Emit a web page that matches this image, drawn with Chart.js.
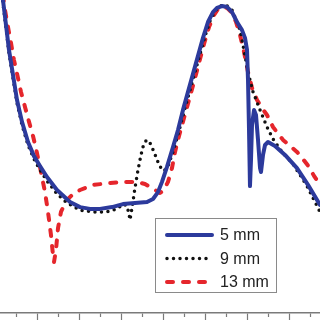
<!DOCTYPE html>
<html>
<head>
<meta charset="utf-8">
<script src="https://cdn.jsdelivr.net/npm/chart.js@4"></script>
<style>
html,body{margin:0;padding:0;background:#fff;}
canvas{display:block;}
</style>
</head>
<body>
<canvas id="c" width="320" height="320"></canvas>
<script>
// Series labels
const seriesLabels = ['5 mm', '9 mm', '13 mm'];

// 5 mm (solid blue)
const x5 = [0.143,0.190,0.262,0.333,0.429,0.524,0.643,0.786,0.929,1.071,1.238,1.476,1.786,2.024,2.262,2.500,2.786,3.048,3.333,3.619,3.762,3.881,3.976,4.095,4.238,4.357,4.476,4.595,4.714,4.833,4.952,5.071,5.190,5.286,5.405,5.524,5.643,5.762,5.881,5.952,6.000,6.024,6.048,6.071,6.095,6.119,6.167,6.214,6.262,6.310,6.333,6.381,6.429,6.500,6.667,6.905,7.190,7.452,7.738];
const y5 = [109.3,104.3,96,87.7,79.3,71,63.7,57,52.3,49,45.3,41,37,35.3,34.7,34.7,35.3,36.3,36.7,37,38,40.3,43.7,48.7,55.3,61,67.7,73.7,79.7,85.7,91.7,97,100.3,101.7,102.3,102,100.3,97,94.3,91.7,87.7,77.7,61,42.3,51,62.7,67.7,66,57.7,48.3,47,52.7,56,57,55.7,52.7,48.3,42.7,36];

// 9 mm (black dotted)
const x9 = [0.143,0.190,0.262,0.333,0.429,0.524,0.643,0.786,0.929,1.071,1.238,1.476,1.714,2.024,2.333,2.667,2.905,3.048,3.143,3.190,3.214,3.262,3.333,3.405,3.476,3.548,3.619,3.690,3.786,3.881,3.952,4.024,4.119,4.214,4.286,4.405,4.524,4.643,4.762,4.881,5.000,5.119,5.238,5.357,5.500,5.643,5.762,5.833,5.905,6.024,6.143,6.310,6.476,6.619,6.833,7.095,7.429,7.738];
const y9 = [108.3,103.3,95,86.7,78.3,70,62.7,56,51.3,47.7,44,39.7,36.7,34.3,33.7,33.7,34.7,36.3,35.7,33,31,35,41.7,47.7,52.7,56.7,57.7,56.7,53.7,50.3,48.3,47.3,49,52.7,56,62,68.3,74.3,80.3,86.3,92.3,97.3,100.7,102.3,102.7,101,97,94.3,89.3,80.3,73.7,67.7,62,58,53.7,49.7,42.3,33.7];

// 13 mm (red dashed)
const x13 = [0.190,0.238,0.310,0.381,0.452,0.548,0.619,0.714,0.810,0.905,1.000,1.095,1.190,1.262,1.333,1.381,1.405,1.452,1.500,1.571,1.690,1.833,2.024,2.333,2.738,3.048,3.381,3.571,3.690,3.810,3.929,4.024,4.119,4.214,4.286,4.381,4.500,4.619,4.738,4.857,4.976,5.095,5.214,5.310,5.405,5.524,5.643,5.738,5.833,5.929,6.024,6.119,6.238,6.357,6.476,6.619,6.857,7.190,7.333,7.476,7.595,7.738];
const y13 = [106,101,95.3,90,84.3,78.3,73.7,68.7,63.7,59,53.3,47,40.3,33.7,26,19.3,17,21,28.3,33.7,37.3,39.3,41,42.7,43.3,43.7,43.7,43,42,41,40,41,43.7,48.3,53.7,59,65,71,77,83.3,89.7,95.3,99.3,101.3,102,101.7,100,97,92.7,87,80.3,75,71,68.3,66,62,57.7,53.7,51.3,48.7,45.7,42.7];

const toPts = (xs, ys) => xs.map((x, i) => ({x: x, y: ys[i]}));

const BLUE = '#2c3a9c';
const BLACK = '#111111';
const RED = '#e5262c';

const styles = [
  {color: BLUE, width: 4, dash: []},
  {color: BLACK, width: 3.5, dash: [0, 6.5]},
  {color: RED, width: 4, dash: [6, 10]}
];

const boxLegend = {
  id: 'boxLegend',
  afterDraw(chart) {
    const ctx = chart.ctx;
    ctx.save();
    const bx = 155.5, by = 218.5, bw = 121, bh = 74;
    ctx.fillStyle = '#fff';
    ctx.fillRect(bx, by, bw, bh);
    ctx.strokeStyle = '#8a8a8a';
    ctx.lineWidth = 1;
    ctx.strokeRect(bx, by, bw, bh);
    const rows = [235, 258.5, 282];
    seriesLabels.forEach((lab, i) => {
      const s = styles[i];
      ctx.beginPath();
      ctx.strokeStyle = s.color;
      ctx.lineWidth = s.width;
      ctx.lineCap = 'round';
      ctx.setLineDash(s.dash);
      ctx.moveTo(167, rows[i]);
      ctx.lineTo(212, rows[i]);
      ctx.stroke();
      ctx.setLineDash([]);
      ctx.fillStyle = '#222';
      ctx.font = "16px 'Liberation Sans', Arial, sans-serif";
      ctx.textBaseline = 'middle';
      ctx.textAlign = 'left';
      ctx.fillText(lab, 220, rows[i] + 1);
    });
    ctx.restore();
  }
};

new Chart(document.getElementById('c'), {
  type: 'line',
  data: {
    datasets: [
      {label: seriesLabels[0], data: toPts(x5, y5), borderColor: BLUE, borderWidth: 4, borderJoinStyle: 'round', borderCapStyle: 'round', order: 0},
      {label: seriesLabels[1], data: toPts(x9, y9), borderColor: BLACK, borderWidth: 3.5, borderDash: [0, 6.5], borderCapStyle: 'round', borderJoinStyle: 'round', order: 1},
      {label: seriesLabels[2], data: toPts(x13, y13), borderColor: RED, borderWidth: 4, borderDash: [6, 10], borderCapStyle: 'round', borderJoinStyle: 'round', order: 2}
    ]
  },
  options: {
    responsive: false,
    devicePixelRatio: 1,
    animation: false,
    parsing: true,
    layout: {padding: 0},
    elements: {point: {radius: 0}, line: {tension: 0, fill: false}},
    plugins: {legend: {display: false}, tooltip: {enabled: false}},
    scales: {
      x: {
        type: 'linear',
        min: 0.119,
        max: 7.738,
        ticks: {display: false, stepSize: 0.5, includeBounds: false},
        grid: {
          drawOnChartArea: false,
          drawTicks: true,
          tickLength: 7,
          tickColor: '#7a7a7a',
          tickWidth: 1.2,
          tickBorderDash: (c) => (c.tick && Math.abs(c.tick.value % 1) > 0.01) ? [3.5, 20] : []
        },
        border: {display: true, color: '#7a7a7a', width: 1.5}
      },
      y: {
        display: false,
        min: 0,
        max: 104.33
      }
    }
  },
  plugins: [boxLegend]
});
</script>
</body>
</html>
